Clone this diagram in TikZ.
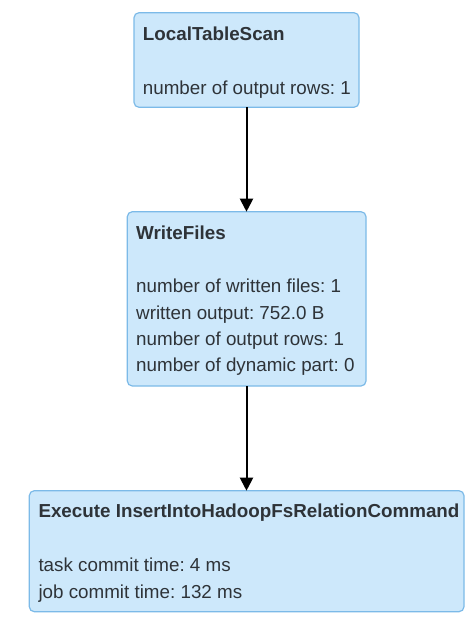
\documentclass[tikz,border=0pt]{standalone}
\usepackage{fontspec}
\setmainfont{Liberation Sans}
\usetikzlibrary{arrows.meta}
\frenchspacing
\definecolor{boxfill}{HTML}{CDE8FB}
\definecolor{boxdraw}{HTML}{7CBAE8}
\definecolor{txt}{HTML}{2E3338}
\tikzset{
  opbox/.style={draw=boxdraw, fill=boxfill, line width=1.2pt, rounded corners=5pt, inner sep=0pt},
  lbl/.style={anchor=base west, inner sep=0pt, text=txt, font=\fontsize{18.8}{22}\selectfont\frenchspacing},
  ttl/.style={lbl, font=\fontsize{18.8}{22}\selectfont\frenchspacing\bfseries},
  flow/.style={line width=2pt, -{Triangle[width=13pt,length=13pt]}, black}
}
\begin{document}
\begin{tikzpicture}[x=1pt,y=-1pt]
\useasboundingbox (0,0) rectangle (474,619);
\fill[white] (0,0) rectangle (474,619);
% boxes
\draw[opbox] (134,12.7) rectangle (359,107.3);
\coordinate (b1) at (246.5,107.3);
\draw[opbox] (127.3,211.7) rectangle (366,386);
\coordinate (t2) at (246.5,211.7);
\coordinate (b2) at (246.5,386);
\draw[opbox] (29.3,490.7) rectangle (464,611.7);
\coordinate (t3) at (246.5,490.7);
% texts
\node[ttl] (l1t) at (142.7,40.7) {LocalTableScan};
\node[lbl] (l1a) at (142.7,94) {number of output rows: 1};
\node[ttl] (l2t) at (136,239.3) {WriteFiles};
\node[lbl] (l2a) at (136,292.7) {number of written files: 1};
\node[lbl] (l2b) at (136,319) {written output: 752.0 B};
\node[lbl] (l2c) at (136,345.7) {number of output rows: 1};
\node[lbl] (l2d) at (136,371.7) {number of dynamic part: 0};
\node[ttl] (l3t) at (38.3,517.7) {Execute InsertIntoHadoopFsRelationCommand};
\node[lbl] (l3a) at (38.3,571.7) {task commit time: 4 ms};
\node[lbl] (l3b) at (38.3,598.3) {job commit time: 132 ms};
% connectors
\draw[flow] (b1) -- (t2);
\draw[flow] (b2) -- (t3);
\end{tikzpicture}
\end{document}
